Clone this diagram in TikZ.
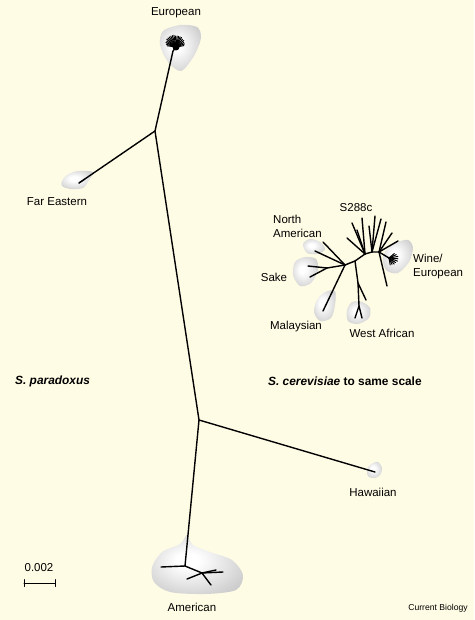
\documentclass[tikz,border=0pt]{standalone}
\usepackage{fontspec}
\setmainfont{Liberation Sans}
\usetikzlibrary{positioning}
\definecolor{paper}{RGB}{255,252,229}
\pgfdeclareradialshading{blobshade}{\pgfpoint{-6bp}{4bp}}{color(0bp)=(white); color(6bp)=(white); color(30bp)=(gray!38); color(50bp)=(gray!55)}
\tikzset{
  branch/.style={line width=1.4pt, line cap=round, line join=round},
  twig/.style={line width=1pt, line cap=round},
  blob/.style={shading=blobshade},
  tag/.style={font=\fontsize{11.5}{14}\selectfont, inner sep=0pt},
  species/.style={font=\fontsize{11.9}{14}\selectfont\bfseries, inner sep=0pt, anchor=west}
}

\begin{document}
\begin{tikzpicture}[x=1pt, y=-1pt]
  \fill[paper] (0,0) rectangle (474,620);

  % Clade shadows
  \shade[blob] plot[smooth cycle] coordinates {(163,31) (180,25) (197,27) (201,38) (194,56) (181,71) (168,62) (160,45)};
  \shade[blob] plot[smooth cycle] coordinates {(62,181) (67,175) (78,171) (93,172) (89,180) (83,188) (70,189) (62,186)};
  \shade[blob] plot[smooth cycle] coordinates {(367,473) (368,467) (373,463) (378,462) (382,468) (380,475) (375,478) (369,477)};
  \shade[blob] plot[smooth cycle] coordinates {(187,535) (193,545) (210,552) (232,560) (243,575) (236,590) (205,594) (170,592) (154,582) (152,567) (162,552) (180,544)};
  \shade[blob] plot[smooth cycle] coordinates {(303,244) (310,239) (320,242) (325,249) (318,254) (307,253)};
  \shade[blob] plot[smooth cycle] coordinates {(295,262) (305,257) (316,259) (318,270) (311,283) (300,286) (293,275)};
  \shade[blob] plot[smooth cycle] coordinates {(317,300) (325,292) (335,291) (335,305) (331,318) (320,321) (314,312)};
  \shade[blob] plot[smooth cycle] coordinates {(347,310) (352,302) (362,302) (370,308) (369,318) (358,324) (348,321)};
  \shade[blob] plot[smooth cycle] coordinates {(385,252) (395,243) (408,240) (413,248) (409,262) (398,273) (387,271) (383,262)};

  % S. paradoxus tree
  \coordinate (st) at (173,51);
  \coordinate (eu) at (176,47);
  \coordinate (pA) at (155,131);
  \coordinate (fe) at (79,183);
  \coordinate (pB) at (199,420);
  \coordinate (hw) at (375,472);
  \coordinate (am) at (185,566);
  \coordinate (amL) at (161,567);
  \coordinate (amR) at (202,573);

  \draw[branch] (eu) -- (st) -- (pA) -- (pB) -- (am);
  \draw[branch] (pA) -- (fe);
  \draw[branch] (pB) -- (hw);
  \draw[twig] (fe) -- ++(6,-4);
  \foreach \a/\r in {188/9, 196/10, 204/11, 212/11, 220/12, 228/12, 236/12, 244/12, 252/12, 260/12, 268/11, 276/11, 284/11, 292/11, 300/11, 310/10, 320/10, 330/9, 340/9, 350/8}
    \draw[twig] (eu) -- ++(\a:\r);
  \fill (eu) circle (3.5);
  \draw[branch] (am) -- (amL);
  \draw[branch] (am) -- (amR);
  \foreach \tip in {(223,572), (211,585), (187,579), (216,570)}
    \draw[branch] (amR) -- \tip;

  % S. cerevisiae tree
  \coordinate (c1) at (345,265);
  \coordinate (sa) at (327,268);
  \coordinate (c2) at (355,261);
  \coordinate (h1) at (365,254);
  \coordinate (h2) at (372,252);
  \coordinate (h3) at (379,252);
  \coordinate (wn) at (389,258);
  \coordinate (wa1) at (358,283);
  \coordinate (wa2) at (359,306);
  \coordinate (na) at (323,242);
  \coordinate (my) at (323,311);
  \coordinate (sc) at (362,218);

  \draw[branch] (c1) -- (c2) -- (h1) -- (h2) -- (h3) -- (wn);
  \draw[branch] (c1) -- (na);
  \draw[branch] (c1) -- (315,251);
  \draw[branch] (c1) -- (sa);
  \draw[branch] (sa) -- (308,266);
  \draw[branch] (sa) -- (310,277);
  \draw[branch] (c1) -- (my);
  \draw[branch] (c2) -- (wa1) -- (wa2);
  \draw[branch] (wa1) -- (366,300);
  \draw[branch] (wa2) -- (355,318);
  \draw[branch] (wa2) -- (362,318);
  \draw[branch] (h1) -- (sc);
  \foreach \tip in {(352,223), (347,238), (357,230)}
    \draw[branch] (h1) -- \tip;
  \foreach \tip in {(375,216), (381,219), (369,226)}
    \draw[branch] (h2) -- \tip;
  \foreach \tip in {(386,222), (392,233), (398,241), (387,286)}
    \draw[branch] (h3) -- \tip;
  \foreach \a/\r in {-40/7, -25/8, -10/9, 5/9, 20/9, 35/8, 50/8, 65/7, 80/7}
    \draw[twig] (wn) -- ++(\a:\r);

  % Scale bar
  \coordinate (sb1) at (24,583);
  \coordinate (sb2) at (55,583);
  \draw[twig] (sb1) -- (sb2);
  \draw[twig] ([yshift=-3.5]sb1) -- ([yshift=3.5]sb1);
  \draw[twig] ([yshift=-3.5]sb2) -- ([yshift=3.5]sb2);

  % Labels
  \node[tag] (lEu) at (176,13) {European};
  \node[tag] (lFe) at (57,202) {Far Eastern};
  \node[tag] (lHw) at (373,492) {Hawaiian};
  \node[tag] (lAm) at (192,607) {American};
  \node[tag] (lSb) at (39,568) {0.002};
  \node[tag] (lSc) at (356,208) {S288c};
  \node[tag, anchor=west, align=left] (lNa) at (273,226) {North\\American};
  \node[tag] (lSk) at (274,277) {Sake};
  \node[tag, anchor=west, align=left] (lWn) at (413,267) {Wine/\\European};
  \node[tag] (lMy) at (296,327) {Malaysian};
  \node[tag] (lWa) at (382,333) {West African};
  \node[species] (lPa) at (15,381) {\itshape S. paradoxus};
  \node[species] (lCe) at (268,381) {\itshape S. cerevisiae\upshape\ to same scale};
  \node[font=\fontsize{8.6}{10}\selectfont, inner sep=0pt] (lCb) at (438,608) {Current Biology};
\end{tikzpicture}
\end{document}
